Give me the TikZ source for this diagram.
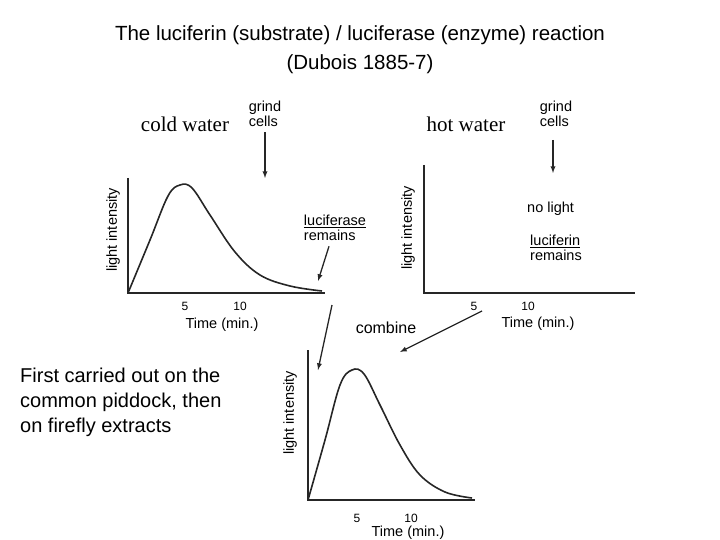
\documentclass[tikz,border=0pt]{standalone}
\usepackage{fontspec}
\setmainfont{Liberation Sans}
\newfontfamily\seriffont{Liberation Serif}
\begin{document}
\begin{tikzpicture}[x=1pt,y=-1pt,
  ax/.style={line width=1.3pt,black!85},
  cv/.style={line width=1.6pt,black!85},
  arr/.style={line width=1.3pt,black!85,-latex},
  lab/.style={font=\fontsize{14.5}{15.5}\selectfont,inner sep=0pt},
  tick/.style={font=\fontsize{12}{13}\selectfont,inner sep=0pt},
  ttl/.style={font=\fontsize{20.5}{22}\selectfont,inner sep=0pt},
  hd/.style={font=\seriffont\fontsize{21}{22}\selectfont,inner sep=0pt}]
\useasboundingbox (0,0) rectangle (720,540);
\node[ttl] (t1) at (360,35) {The luciferin (substrate) / luciferase (enzyme) reaction};
\node[ttl] (t2) at (360,64) {(Dubois 1885-7)};
% top-left plot
\draw[ax] (128,178) -- (128,293) -- (325,293);
\draw[cv] plot[smooth,tension=0.6] coordinates {(128,293) (150,240) (168,196) (180,185) (192,188) (210,215) (235,252) (260,275) (290,286) (322,291)};
\node[tick] (a5) at (185,306) {5};
\node[tick] (a10) at (240,306) {10};
\node[lab] (ax) at (222,325) {Time (min.)};
\node[lab,rotate=90] (ay) at (113,230) {light intensity};
\node[hd] (cw) at (185,124) {cold water};
\node[lab,align=left] (g1) at (265,114) {grind\\cells};
\coordinate (g1e) at (265,178);
\draw[arr] (g1.south) ++(0,5) -- (g1e);
\node[lab,align=left] (lr) at (335,228) {\underline{luciferase}\\remains};
\coordinate (lre) at (318,281);
\draw[arr] (lr.south) ++(-6,5) -- (lre);
% top-right plot
\draw[ax] (424,165) -- (424,293) -- (635,293);
\node[tick] (b5) at (474,306) {5};
\node[tick] (b10) at (528,306) {10};
\node[lab] (bx) at (538,324) {Time (min.)};
\node[lab,rotate=90] (by) at (408,228) {light intensity};
\node[hd] (hw) at (466,124) {hot water};
\node[lab,align=left] (g2) at (556,114) {grind\\cells};
\coordinate (g2e) at (553,173);
\draw[arr] (553,140) -- (g2e);
\node[lab,anchor=west] (nl) at (527,209) {no light};
\node[lab,align=left] (lf) at (556,248) {\underline{luciferin}\\remains};
% combine
\node[lab,font=\fontsize{16}{17}\selectfont] (cb) at (386,328) {combine};
\coordinate (c1s) at (332,305);
\coordinate (c1e) at (318,370);
\draw[arr] (c1s) -- (c1e);
\coordinate (c2s) at (482,311);
\coordinate (c2e) at (400,352);
\draw[arr] (c2s) -- (c2e);
% bottom plot
\draw[ax] (308,350) -- (308,500) -- (475,500);
\draw[cv] plot[smooth,tension=0.6] coordinates {(308,500) (325,440) (340,385) (352,370) (364,374) (380,405) (400,445) (420,475) (445,492) (472,498)};
\node[tick] (c5) at (357,518) {5};
\node[tick] (c10) at (411,518) {10};
\node[lab] (cx) at (408,533) {Time (min.)};
\node[lab,rotate=90] (cy) at (290,413) {light intensity};
% left text
\node[font=\fontsize{20}{25}\selectfont,align=left,anchor=north west,inner sep=0pt] (lt) at (20,368) {First carried out on the\\common piddock, then\\on firefly extracts};
\end{tikzpicture}
\end{document}
